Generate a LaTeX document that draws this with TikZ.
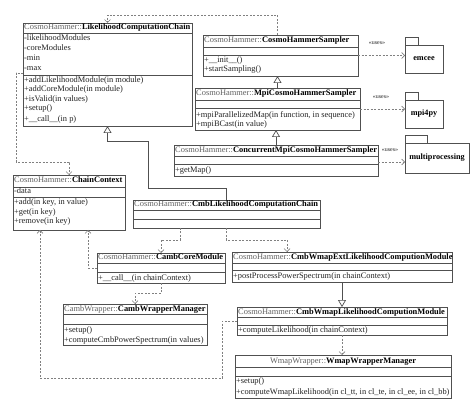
\documentclass[tikz,border=0pt]{standalone}
\usepackage{fontspec}
\setmainfont{Liberation Serif}
\usetikzlibrary{arrows.meta}
\definecolor{linec}{HTML}{505050}
\definecolor{depc}{HTML}{808080}
\definecolor{textc}{HTML}{222222}
\definecolor{prefc}{HTML}{606060}
\newcount\tcnt
\newcommand\umlbox[5]{\node[classbox, minimum width={(#4-#2)*1pt}, minimum height={(#5-#3)*1pt}] (#1) at ({(#2+#4)/2},{(#3+#5)/2}) {};}
\newcommand\umlsep[2]{\path (0,#2) coordinate (sepy); \draw[sepline] (#1.west |- sepy) -- (#1.east |- sepy);}
\newcommand\mline[3]{\global\advance\tcnt by 1 \node[txt] (t\the\tcnt) at (#1,#2) {#3};}
\newcommand\ttl[2]{\textcolor{prefc}{#1::}\textbf{\color{black}#2}}
\begin{document}
\begin{tikzpicture}[x=1pt,y=-1pt,
  classbox/.style={draw=linec, line width=0.7pt, fill=white, inner sep=0pt, outer sep=0pt},
  sepline/.style={draw=linec, line width=0.7pt},
  txt/.style={anchor=west, inner sep=0pt, text height=6pt, text depth=2pt, font=\fontsize{8.4}{10}\selectfont, text=textc},
  dep/.style={draw=depc, dash pattern=on 2pt off 1.5pt, line width=0.7pt, -{Straight Barb[length=3pt,width=6pt]}},
  inh/.style={draw=linec, line width=0.7pt, -{Triangle[open,length=7pt,width=8pt,fill=white]}},
  pkgbox/.style={classbox, font=\bfseries\fontsize{8.2}{9}\selectfont},
  uses/.style={inner sep=0pt, font=\fontsize{6}{7}\selectfont, text=textc},
]
\useasboundingbox (0,0) rectangle (474,414);

% ---- classes ----
\umlbox{LCC}{23}{23}{192}{126}
\umlsep{LCC}{33}\umlsep{LCC}{75}
\mline{24}{28}{\ttl{CosmoHammer}{LikelihoodComputationChain}}
\mline{24}{38.5}{-likelihoodModules}
\mline{24}{48.5}{-coreModules}
\mline{24}{58.5}{-min}
\mline{24}{68.5}{-max}
\mline{24}{80.5}{+addLikelihoodModule(in module)}
\mline{24}{90}{+addCoreModule(in module)}
\mline{24}{99.5}{+isValid(in values)}
\mline{24}{109}{+setup()}
\mline{24}{119.5}{+\_\_call\_\_(in p)}

\umlbox{CHS}{203}{35}{358}{76}
\umlsep{CHS}{47}\umlsep{CHS}{55}
\mline{204}{41}{\ttl{CosmoHammer}{CosmoHammerSampler}}
\mline{204}{61}{+\_\_init\_\_()}
\mline{204}{70}{+startSampling()}

\umlbox{MCHS}{195}{88}{360}{130}
\umlsep{MCHS}{100}\umlsep{MCHS}{108}
\mline{196}{94}{\ttl{CosmoHammer}{MpiCosmoHammerSampler}}
\mline{196}{116}{+mpiParallelizedMap(in function, in sequence)}
\mline{196}{125}{+mpiBCast(in value)}

\umlbox{CMCHS}{174}{145}{378}{176}
\umlsep{CMCHS}{156}\umlsep{CMCHS}{164}
\mline{175}{150.5}{\ttl{CosmoHammer}{ConcurrentMpiCosmoHammerSampler}}
\mline{175}{170.5}{+getMap()}

\umlbox{CC}{13}{175}{125}{230}
\umlsep{CC}{187}\umlsep{CC}{197}
\mline{14}{181}{\ttl{CosmoHammer}{ChainContext}}
\mline{14}{192}{-data}
\mline{14}{203}{+add(in key, in value)}
\mline{14}{212.5}{+get(in key)}
\mline{14}{222}{+remove(in key)}

\umlbox{CLCC}{133}{200}{320}{228}
\umlsep{CLCC}{210}\umlsep{CLCC}{219}
\mline{134}{205}{\ttl{CosmoHammer}{CmbLikelihoodComputationChain}}

\umlbox{CCM}{97}{253}{225}{283}
\umlsep{CCM}{263}\umlsep{CCM}{272}
\mline{98}{258}{\ttl{CosmoHammer}{CambCoreModule}}
\mline{98}{278}{+\_\_call\_\_(in chainContext)}

\umlbox{CWM}{63}{304}{207}{345}
\umlsep{CWM}{314}\umlsep{CWM}{324}
\mline{64}{309.5}{\ttl{CambWrapper}{CambWrapperManager}}
\mline{64}{330}{+setup()}
\mline{64}{340}{+computeCmbPowerSpectrum(in values)}

\umlbox{CWELCM}{232}{252}{452}{282}
\umlsep{CWELCM}{263}\umlsep{CWELCM}{270}
\mline{233}{257.5}{\ttl{CosmoHammer}{CmbWmapExtLikelihoodComputionModule}}
\mline{233}{277}{+postProcessPowerSpectrum(in chainContext)}

\umlbox{CWLCM}{237}{307}{447}{335}
\umlsep{CWLCM}{317}\umlsep{CWLCM}{325}
\mline{238}{312}{\ttl{CosmoHammer}{CmbWmapLikelihoodComputionModule}}
\mline{238}{330}{+computeLikelihood(in chainContext)}

\umlbox{WWM}{235}{355}{451}{398}
\umlsep{WWM}{367}\umlsep{WWM}{376}
\node[txt, anchor=center] (wwmtitle) at (343,361) {\ttl{WmapWrapper}{WmapWrapperManager}};
\mline{236}{381.5}{+setup()}
\mline{236}{392}{+computeWmapLikelihood(in cl\_tt, in cl\_te, in cl\_ee, in cl\_bb)}

% ---- packages ----
\draw[sepline] (405,37) rectangle (418,45);
\node[pkgbox, minimum width=38pt, minimum height=28pt] (emcee) at (424,59) {emcee};
\draw[sepline] (405,92) rectangle (418,100);
\node[pkgbox, minimum width=38pt, minimum height=28pt] (mpi) at (424,114) {mpi4py};
\draw[sepline] (405,135) rectangle (427,143);
\node[pkgbox, minimum width=64pt, minimum height=30pt] (mp) at (437,158) {multiprocessing};

\node[uses] (u1) at (377,43) {«uses»};
\node[uses] (u2) at (381,97) {«uses»};
\node[uses] (u3) at (390,150) {«uses»};

% ---- connectors ----
\draw[dep] ([xshift=-3.5pt]CHS.north) |- ([yshift=8pt]LCC.north) -- (LCC.north);
\draw[dep] ([yshift=1.5pt]LCC.west) -- ++(-7,0) |- ([yshift=13pt]CC.north) -- (CC.north);
\draw[inh] (CLCC.north) -- ++(0,-12) -| ++(-78,-47) -| (LCC.south);
\draw[inh] (MCHS.north) -- (MCHS.north |- CHS.south);
\draw[inh] (CMCHS.north) -- (CMCHS.north |- MCHS.south);
\draw[dep] (CHS.east) -- (CHS.east -| emcee.west);
\draw[dep] (MCHS.east) -- (MCHS.east -| mpi.west);
\draw[dep] ([yshift=-1.5pt]CMCHS.east) -- ([yshift=-1.5pt]CMCHS.east -| mp.west);
\draw[dep] ([xshift=-46.5pt]CLCC.south) |- ([yshift=13pt]CCM.north) -- (CCM.north);
\draw[dep] ([xshift=-0.5pt]CLCC.south) |- ([xshift=-55pt,yshift=12pt]CWELCM.north) -- ([xshift=-55pt]CWELCM.north);
\draw[dep] (CCM.west) -| ([xshift=19pt]CC.south);
\draw[dep] (CWLCM.west) -- ++(-15,0) |- ([xshift=-29pt,yshift=-148pt]CC.south) -- ([xshift=-29pt]CC.south);
\draw[dep] (CCM.south) |- ([yshift=11pt]CWM.north) -- (CWM.north);
\draw[inh] (CWELCM.south) -- (CWELCM.south |- CWLCM.north);
\draw[dep] (CWLCM.south) -- (CWLCM.south |- WWM.north);
\end{tikzpicture}
\end{document}
